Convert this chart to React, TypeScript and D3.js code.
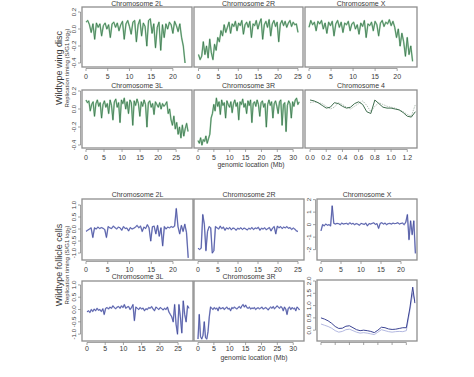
import React from "react";
import * as d3 from "d3";

// ---------- data ----------
const wing2L = [0.08,0.1,0.05,-0.04,0.06,-0.12,0.07,0.02,0.06,-0.08,0.04,0.07,0.0,0.05,-0.1,0.06,0.08,0.02,0.07,-0.02,0.05,0.09,-0.12,0.06,0.1,0.03,-0.06,0.08,0.1,-0.15,0.05,0.11,-0.08,0.07,0.03,-0.2,0.1,0.12,-0.05,0.06,-0.22,0.02,0.08,-0.25,0.05,-0.1,0.06,0.0,0.08,0.05,-0.05,0.09,0.04,-0.03,0.06,-0.1,-0.2,-0.4];
const wing2R = [-0.3,-0.36,-0.32,-0.15,-0.3,-0.2,-0.34,-0.12,-0.28,-0.36,-0.18,-0.25,-0.1,-0.15,-0.02,-0.08,0.05,-0.04,0.02,0.08,-0.05,0.06,0.03,0.09,-0.02,0.07,0.04,0.1,-0.06,0.05,0.08,0.02,0.09,-0.1,0.06,0.04,0.1,0.0,0.07,0.12,-0.12,0.05,0.09,0.02,0.11,-0.08,0.06,0.1,0.03,0.08,-0.15,0.06,0.1,0.04,0.09,0.02,0.07,0.1,0.03,0.08,0.05,0.06,-0.04];
const wingX = [0.02,0.1,0.05,0.08,-0.02,0.09,0.06,0.1,0.0,0.07,-0.05,0.08,0.04,0.09,-0.08,0.06,0.1,0.02,0.08,-0.04,0.07,0.05,0.09,-0.02,0.06,0.08,0.0,0.05,-0.06,0.07,0.03,0.1,-0.1,0.06,0.04,0.08,-0.02,0.09,0.05,-0.08,0.07,0.1,0.03,0.08,0.06,0.11,0.04,0.09,0.02,-0.1,0.0,-0.2,-0.05,-0.15,-0.32,-0.1,-0.3,-0.2,-0.38];
const wing3L = [0.1,0.07,0.09,-0.02,0.05,0.08,-0.08,0.06,0.1,0.03,0.07,-0.1,0.05,0.09,0.02,0.06,-0.05,0.1,0.04,-0.12,0.08,0.11,0.02,0.07,-0.15,0.1,0.06,0.12,0.0,0.08,-0.05,0.1,0.07,-0.18,0.09,0.04,0.11,0.06,-0.08,0.08,0.03,0.1,0.05,-0.2,0.07,0.09,0.02,0.06,-0.06,0.08,0.05,0.02,0.07,0.0,0.06,0.03,0.05,0.08,-0.05,0.0,-0.12,-0.18,-0.08,-0.22,-0.15,-0.28,-0.2,-0.32,-0.18,-0.3,-0.22,-0.16,-0.25];
const wing3R = [-0.35,-0.38,-0.32,-0.4,-0.34,-0.36,-0.3,-0.38,-0.33,-0.28,-0.1,-0.05,0.05,-0.02,0.12,0.03,0.08,-0.06,0.1,0.04,0.07,-0.1,0.09,0.05,0.02,0.08,-0.04,0.06,0.1,0.03,0.07,-0.12,0.08,0.05,0.11,0.02,0.06,-0.05,0.09,0.04,0.1,-0.15,0.06,0.08,0.03,0.1,0.05,-0.08,0.07,0.09,0.02,0.06,-0.2,0.05,0.1,0.04,0.08,-0.1,0.06,0.09,0.03,-0.05,0.08,0.1,-0.18,0.05,0.07,-0.25,0.04,0.09,0.06,-0.1,0.08,0.03,0.1,0.12,0.05,0.08];
const wing4Pos = [0,0.05,0.1,0.15,0.2,0.25,0.3,0.35,0.4,0.45,0.5,0.55,0.6,0.65,0.7,0.75,0.8,0.85,0.9,0.95,1.0,1.05,1.1,1.15,1.2,1.25,1.3];
const wing4A = [0.1,0.09,0.07,0.04,0.01,0.02,0.07,0.06,0.03,0.01,0.02,0.06,0.08,0.05,-0.03,-0.05,0.1,0.06,0.02,0.01,0.01,0.0,-0.01,-0.04,-0.08,-0.09,-0.03];
const wing4B = [0.07,0.08,0.07,0.06,0.03,0.0,0.02,0.07,0.05,0.02,0.0,0.03,0.06,0.09,0.04,-0.03,0.03,0.07,0.05,0.03,0.02,0.01,-0.01,-0.03,-0.06,-0.08,0.05];

const fol2L = [-0.1,-0.05,0.0,0.05,-0.35,0.05,0.0,0.08,0.02,0.06,0.03,-0.02,-0.35,0.1,0.05,0.02,0.12,0.06,0.0,0.08,0.05,-0.05,0.1,0.02,0.04,-0.08,0.06,0.0,0.03,0.08,0.15,0.05,0.12,-0.1,0.08,0.02,0.18,0.05,-0.5,0.1,0.12,-0.2,0.15,-0.3,0.05,-0.7,0.1,0.0,0.08,0.05,0.1,0.07,0.12,0.85,0.1,-0.2,0.15,-0.1,0.2,-0.15,-1.2];
const fol2R = [-0.8,-0.85,-0.8,0.6,0.2,-0.9,-0.1,0.1,0.05,-1.0,-0.9,0.1,0.05,0.0,0.12,0.02,0.08,-0.05,0.05,0.0,0.06,-0.03,0.04,0.02,-0.05,0.03,0.0,0.05,-0.02,0.04,0.01,-0.04,0.03,0.0,0.06,-0.02,0.04,0.02,0.07,-0.05,0.03,0.0,0.05,-0.03,0.02,0.06,-0.08,0.04,0.1,-0.2,0.12,0.05,0.1,0.02,0.08,0.05,0.1,0.03,0.06,-0.02,0.04,0.0,-0.08,-0.1];
const folX = [-0.5,0.0,-0.1,0.05,-0.05,0.0,-0.1,1.5,0.1,0.05,0.1,0.08,0.0,0.12,0.05,0.08,0.1,0.02,0.15,0.05,0.1,0.0,0.08,0.04,-0.05,0.1,0.06,0.02,0.12,-0.1,0.08,0.05,0.1,0.14,0.02,0.08,-0.3,0.1,0.15,0.05,0.12,0.0,0.08,0.1,0.05,0.12,0.08,0.1,0.15,0.05,0.1,0.12,0.0,0.2,0.8,-1.2,0.3,-0.8,0.3,-2.3];
const fol3L = [-0.1,-0.05,-0.12,0.0,-0.08,0.02,-0.05,0.05,-0.03,0.0,-0.08,0.03,-0.2,0.05,0.08,0.02,0.1,0.05,0.15,0.08,0.03,0.1,0.12,0.05,0.15,0.08,0.2,0.05,0.1,0.12,0.0,0.08,0.2,-0.45,0.1,0.05,0.0,0.08,0.02,0.06,-0.05,0.03,0.0,0.08,0.05,0.12,0.02,-0.05,0.1,0.05,0.0,0.08,0.04,-0.02,0.05,0.0,0.1,-0.1,-0.2,-0.3,-0.5,0.2,-0.6,-1.0,0.2,-0.3,-0.95,0.35,-0.2,-0.5,0.15,0.05];
const fol3R = [-1.2,-0.2,-1.1,-1.2,-1.05,-0.5,-1.15,-1.2,-0.9,-0.3,0.1,0.05,0.0,0.08,0.02,0.06,-0.05,0.1,0.03,0.05,0.08,0.0,0.06,0.1,0.02,0.05,-0.05,0.08,0.04,0.1,0.06,0.02,0.08,0.12,0.05,0.15,0.2,0.1,0.18,0.08,0.05,0.1,0.02,0.06,0.04,0.08,0.0,0.05,0.07,0.03,0.06,0.1,0.02,0.05,0.08,0.04,-0.02,0.06,0.1,0.05,0.12,0.03,0.08,0.15,0.1,0.05,0.12,0.08,-0.05,0.1,0.02,-0.2,0.05,0.1,0.0,0.08,0.03,0.06,-0.05,0.1,0.05,-0.02];
const fol4Pos = [0,0.05,0.1,0.15,0.2,0.25,0.3,0.35,0.4,0.45,0.5,0.55,0.6,0.65,0.7,0.75,0.8,0.85,0.9,0.95,1.0,1.05,1.1,1.15,1.2,1.25,1.29,1.32];
const fol4A = [0.5,0.45,0.38,0.28,0.15,0.07,0.08,0.16,0.18,0.1,0.02,-0.02,0.0,-0.02,-0.05,-0.1,0.0,0.12,0.1,0.05,0.03,0.04,0.07,0.1,0.1,0.9,1.75,1.1];
const fol4B = [0.25,0.2,0.15,0.08,-0.02,-0.08,-0.05,0.02,0.04,-0.02,-0.08,-0.12,-0.1,-0.12,-0.15,-0.18,-0.08,0.02,-0.02,-0.06,-0.08,-0.06,-0.05,-0.06,-0.02,0.8,1.5,1.2];

// chromosome arm lengths covered by the bins (Mb)
const armLen = { w2L: 22.8, w2R: 25.0, wX: 23.5, w3L: 28.3, w3R: 31.9, f2L: 23.5, f2R: 25.0, fX: 23.6, f3L: 28.0, f3R: 32.0 };

const ticks2L = [0, 5, 10, 15, 20];
const ticks2R = [0, 5, 10, 15, 20, 25];
const ticks3L = [0, 5, 10, 15, 20, 25];
const ticks3R = [0, 5, 10, 15, 20, 25, 30];
const ticks4 = [0, 0.2, 0.4, 0.6, 0.8, 1.0, 1.2];
const wingYTicks = [0.2, 0.0, -0.2, -0.4];
const folYTicks = [1.0, 0.5, 0.0, -0.5, -1.0];
const folXYTicks = [2, 1, 0, -1, -2];
const fol4YTicks = [2.0, 1.5, 1.0, 0.5, 0.0];

// ---------- styling ----------
const GREEN_D = "#2f6b43";
const GREEN_L = "#a6d3b0";
const BLUE_D = "#3b4393";
const BLUE_L = "#aab0dd";
const FONT = "'Liberation Sans', Arial, sans-serif";
const TXT = "#3a3a3a";
const BOX = "#8e8e8e";

type Series = { x: number[]; y: number[]; color: string; width: number; dash?: string };
type PanelDef = {
  title?: string;
  titleY?: number;
  box: [number, number, number, number]; // x0, y0, x1, y1
  xDom: [number, number];
  yDom: [number, number];
  xTicks: number[];
  xFmt?: (v: number) => string;
  xLabels?: boolean;
  xLabelDy?: number;
  yTicks?: number[];
  yFmt?: (v: number) => string;
  series: Series[];
};

const bins = (vals: number[], len: number) => vals.map((_, i) => (i * len) / (vals.length - 1));

const wingPair = (vals: number[], len: number): Series[] => [
  { x: bins(vals, len), y: vals, color: GREEN_L, width: 1.7 },
  { x: bins(vals, len), y: vals, color: GREEN_D, width: 0.7 },
];
const folPair = (vals: number[], len: number): Series[] => [
  { x: bins(vals, len), y: vals, color: BLUE_L, width: 1.5 },
  { x: bins(vals, len), y: vals, color: BLUE_D, width: 0.7 },
];

const f1 = (v: number) => v.toFixed(1);
const f0 = (v: number) => String(v);

const ROW1: [number, number] = [7, 67];
const ROW2: [number, number] = [90, 148];
const ROW3: [number, number] = [199, 260];
const ROW4: [number, number] = [281, 341];

const panels: PanelDef[] = [
  { title: "Chromosome 2L", titleY: 5.5, box: [82, ROW1[0], 192, ROW1[1]], xDom: [-0.92, 24.4], yDom: [-0.447, 0.259], xTicks: ticks2L, yTicks: wingYTicks, yFmt: f1, series: wingPair(wing2L, armLen.w2L) },
  { title: "Chromosome 2R", titleY: 5.5, box: [194, ROW1[0], 303, ROW1[1]], xDom: [-1.13, 26.26], yDom: [-0.447, 0.259], xTicks: ticks2R, series: wingPair(wing2R, armLen.w2R) },
  { title: "Chromosome X", titleY: 5.5, box: [305, ROW1[0], 417, ROW1[1]], xDom: [-0.91, 24.5], yDom: [-0.447, 0.259], xTicks: ticks2L, series: wingPair(wingX, armLen.wX) },
  { title: "Chromosome 3L", box: [82, ROW2[0], 192, ROW2[1]], xDom: [-1.11, 29.4], yDom: [-0.433, 0.211], xTicks: ticks3L, yTicks: wingYTicks, yFmt: f1, series: wingPair(wing3L, armLen.w3L) },
  { title: "Chromosome 3R", box: [194, ROW2[0], 303, ROW2[1]], xDom: [-1.26, 33.1], yDom: [-0.433, 0.211], xTicks: ticks3R, series: wingPair(wing3R, armLen.w3R) },
  {
    title: "Chromosome 4", box: [305, ROW2[0], 417, ROW2[1]], xDom: [-0.062, 1.32], yDom: [-0.433, 0.211], xTicks: ticks4, xFmt: f1,
    series: [
      { x: wing4Pos, y: wing4B, color: "#a9b8ad", width: 0.9, dash: "1.5,1" },
      { x: wing4Pos, y: wing4A, color: "#3f6e4e", width: 1.0 },
    ],
  },
  { title: "Chromosome 2L", box: [82, ROW3[0], 193, ROW3[1]], xDom: [-0.92, 24.6], yDom: [-1.29, 1.25], xTicks: ticks2L, yTicks: folYTicks, yFmt: f1, series: folPair(fol2L, armLen.f2L) },
  { title: "Chromosome 2R", box: [194, ROW3[0], 304, ROW3[1]], xDom: [-1, 26.5], yDom: [-1.29, 1.25], xTicks: ticks2R, series: folPair(fol2R, armLen.f2R) },
  { title: "Chromosome X", box: [317, ROW3[0], 417, ROW3[1]], xDom: [-1, 24], yDom: [-2.83, 2.05], xTicks: ticks2L, yTicks: folXYTicks, yFmt: f0, series: folPair(folX, armLen.fX) },
  { title: "Chromosome 3L", box: [82, ROW4[0], 193, ROW4[1]], xDom: [-1.37, 29.1], yDom: [-1.28, 1.16], xTicks: ticks3L, xLabelDy: 10, yTicks: folYTicks, yFmt: f1, series: folPair(fol3L, armLen.f3L) },
  { title: "Chromosome 3R", box: [194, ROW4[0], 304, ROW4[1]], xDom: [-1.26, 33.4], yDom: [-1.28, 1.16], xTicks: ticks3R, xLabelDy: 10, series: folPair(fol3R, armLen.f3R) },
  {
    box: [317, 280, 417, ROW4[1]], xDom: [-0.056, 1.35], yDom: [-0.44, 2.04], xTicks: ticks4, xLabels: false, yTicks: fol4YTicks, yFmt: f1,
    series: [
      { x: fol4Pos, y: fol4B, color: BLUE_L, width: 0.9 },
      { x: fol4Pos, y: fol4A, color: BLUE_D, width: 1.0 },
    ],
  },
];

function Panel({ p }: { p: PanelDef }) {
  const [x0, y0, x1, y1] = p.box;
  const xs = d3.scaleLinear().domain(p.xDom).range([x0, x1]);
  const ys = d3.scaleLinear().domain(p.yDom).range([y1, y0]);
  const line = d3.line<[number, number]>().x((d) => xs(d[0])).y((d) => ys(d[1]));
  const xFmt = p.xFmt ?? f0;
  const showX = p.xLabels !== false;
  const dy = p.xLabelDy ?? 11.5;
  return (
    <g>
      {p.series.map((s, i) => (
        <path key={i} d={line(s.x.map((v, j) => [v, s.y[j]]) as [number, number][]) ?? ""} fill="none" stroke={s.color} strokeWidth={s.width} strokeDasharray={s.dash} strokeLinejoin="round" />
      ))}
      <rect x={x0} y={y0} width={x1 - x0} height={y1 - y0} fill="none" stroke={BOX} strokeWidth={1.3} />
      {p.title && (
        <text x={(x0 + x1) / 2} y={p.titleY ?? y0 - 2} textAnchor="middle" fontSize={7} fill={TXT} fontFamily={FONT}>{p.title}</text>
      )}
      {/* x axis */}
      <line x1={xs(p.xTicks[0])} x2={xs(p.xTicks[p.xTicks.length - 1])} y1={y1 + 1.5} y2={y1 + 1.5} stroke="#666" strokeWidth={0.6} />
      {p.xTicks.map((t) => (
        <g key={"x" + t}>
          <line x1={xs(t)} x2={xs(t)} y1={y1 + 1.5} y2={y1 + 4} stroke="#666" strokeWidth={0.6} />
          {showX && (
            <text x={xs(t)} y={y1 + dy} textAnchor="middle" fontSize={7} fill={TXT} fontFamily={FONT}>{xFmt(t)}</text>
          )}
        </g>
      ))}
      {/* y axis */}
      {p.yTicks && (
        <g>
          <line x1={x0 - 1.5} x2={x0 - 1.5} y1={ys(p.yTicks[0])} y2={ys(p.yTicks[p.yTicks.length - 1])} stroke="#666" strokeWidth={0.6} />
          {p.yTicks.map((t) => (
            <g key={"y" + t}>
              <line x1={x0 - 1.5} x2={x0 - 4} y1={ys(t)} y2={ys(t)} stroke="#666" strokeWidth={0.6} />
              <text transform={`translate(${x0 - 6},${ys(t)}) rotate(-90)`} textAnchor="middle" fontSize={6.2} fill={TXT} fontFamily={FONT}>{p.yFmt ? p.yFmt(t) : f0(t)}</text>
            </g>
          ))}
        </g>
      )}
    </g>
  );
}

export default function App() {
  return (
    <svg width={474} height={377} style={{ position: "absolute", left: 0, top: 0, background: "#fff" }}>
      <rect x={0} y={0} width={474} height={377} fill="#fff" />
      {panels.map((p, i) => (
        <Panel key={i} p={p} />
      ))}
      <text x={251} y={167} textAnchor="middle" fontSize={6.8} fill={TXT} fontFamily={FONT}>genomic location (Mb)</text>
      <text x={254} y={359.5} textAnchor="middle" fontSize={6.8} fill={TXT} fontFamily={FONT}>genomic location (Mb)</text>
      <text transform="translate(62,68) rotate(-90)" textAnchor="middle" fontSize={9} fill={TXT} fontFamily={FONT}>Wildtype wing disc</text>
      <text transform="translate(69,68) rotate(-90)" textAnchor="middle" fontSize={6} fill={TXT} fontFamily={FONT}>
        Replication timing (S/G1 log<tspan fontSize={4.5} dy={1.5}>2</tspan><tspan dy={-1.5}>)</tspan>
      </text>
      <text transform="translate(62,265) rotate(-90)" textAnchor="middle" fontSize={9} fill={TXT} fontFamily={FONT}>Wildtype follicle cells</text>
      <text transform="translate(69,265) rotate(-90)" textAnchor="middle" fontSize={6} fill={TXT} fontFamily={FONT}>
        Replication timing (S/G1 log<tspan fontSize={4.5} dy={1.5}>2</tspan><tspan dy={-1.5}>)</tspan>
      </text>
    </svg>
  );
}
